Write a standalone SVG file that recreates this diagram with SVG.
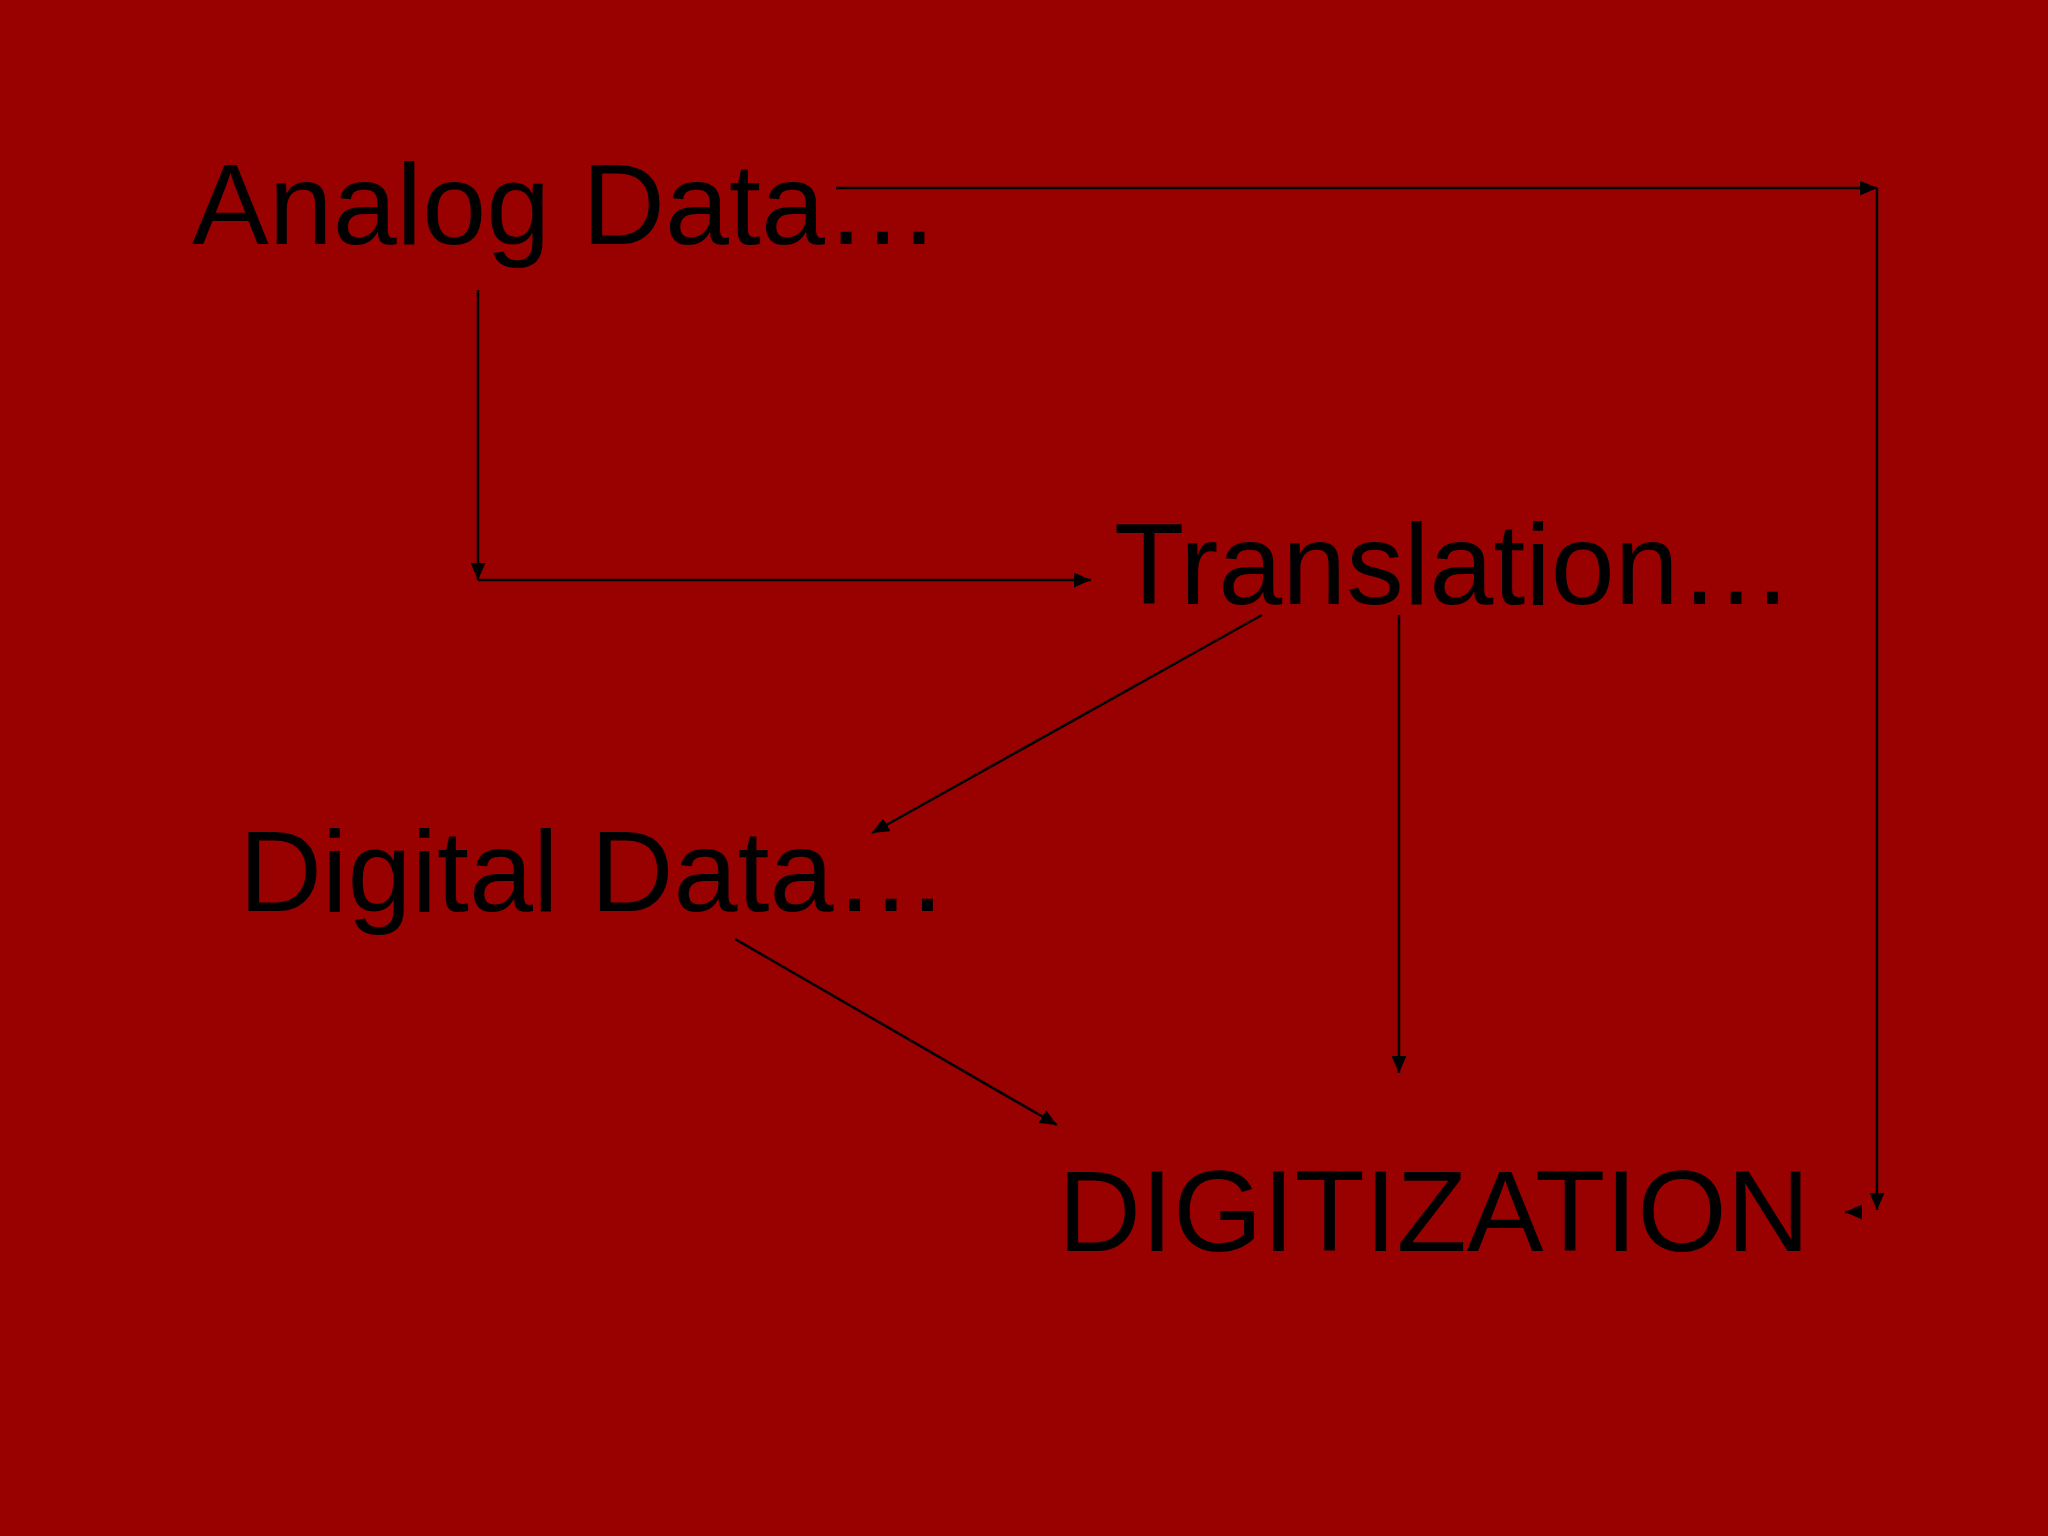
<svg xmlns="http://www.w3.org/2000/svg" width="2048" height="1536" viewBox="0 0 2048 1536">
<style>
.lbl{font-family:"Liberation Sans",Arial,sans-serif;font-size:115px;fill:#000}
.con{stroke:#000;stroke-width:2.5;fill:none}
</style>
<defs>
<marker id="ah" viewBox="0 0 16 14" refX="16" refY="7" markerWidth="17" markerHeight="15" markerUnits="userSpaceOnUse" orient="auto">
<path d="M0,0 L16,7 L0,14 Z" fill="#000"/>
</marker>
</defs>
<rect width="2048" height="1536" fill="#990000"/>
<g id="connectors">
<line class="con" x1="836" y1="188" x2="1877" y2="188" marker-end="url(#ah)"/>
<line class="con" x1="1877" y1="188" x2="1877" y2="1210" marker-end="url(#ah)"/>
<line class="con" x1="1858" y1="1212" x2="1845" y2="1212" marker-end="url(#ah)" stroke-width="0"/>
<line class="con" x1="478" y1="290" x2="478" y2="580" marker-end="url(#ah)"/>
<line class="con" x1="478" y1="580" x2="1091" y2="580" marker-end="url(#ah)"/>
<line class="con" x1="1262" y1="615" x2="872" y2="833" marker-end="url(#ah)"/>
<line class="con" x1="1399" y1="615" x2="1399" y2="1073" marker-end="url(#ah)"/>
<line class="con" x1="735" y1="939" x2="1057" y2="1125" marker-end="url(#ah)"/>
</g>
<g id="analog"><text class="lbl" x="192" y="244">Analog Data…</text></g>
<g id="translation"><text class="lbl" x="1114" y="604">Translation…</text></g>
<g id="digital"><text class="lbl" x="239" y="911">Digital Data…</text></g>
<g id="digitization"><text class="lbl" x="1058" y="1251">DIGITIZATION</text></g>
</svg>
